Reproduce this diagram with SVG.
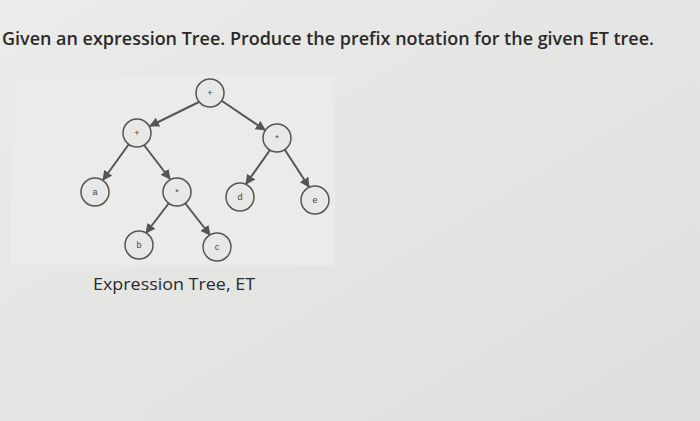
<svg xmlns="http://www.w3.org/2000/svg" width="700" height="421" viewBox="0 0 700 421">
<defs>
<marker id="ah" markerWidth="10" markerHeight="10" refX="9" refY="5" orient="auto" markerUnits="userSpaceOnUse"><path d="M0,0 L10,5 L0,10 z" fill="#555"/></marker>
<linearGradient id="bg" x1="0" y1="0" x2="1" y2="1"><stop offset="0" stop-color="#ebebe9"/><stop offset="1" stop-color="#dededc"/></linearGradient>
</defs>
<style>
.n circle{fill:#e8e8e6;stroke:#555;stroke-width:1.5}
.n text{font-family:"Liberation Sans",Arial,sans-serif;font-size:9px;fill:#444;text-anchor:middle}
#edges line{stroke:#555;stroke-width:2;marker-end:url(#ah)}
</style>
<rect width="700" height="421" fill="url(#bg)"/>
<rect x="10" y="75" width="325" height="190" fill="#ebebe9"/>
<text x="2" y="45" font-family="'Open Sans',sans-serif" font-size="18" font-weight="600" fill="#2a2a2a" textLength="652" lengthAdjust="spacingAndGlyphs">Given an expression Tree. Produce the prefix notation for the given ET tree.</text>
<g id="edges">
<line x1="199" y1="102" x2="150" y2="126"/>
<line x1="222" y1="101" x2="265" y2="130"/>
<line x1="129" y1="144" x2="103" y2="180"/>
<line x1="144" y1="145" x2="170" y2="179"/>
<line x1="169" y1="203" x2="146" y2="233"/>
<line x1="185" y1="203" x2="210" y2="235"/>
<line x1="270" y1="150" x2="246" y2="184"/>
<line x1="285" y1="150" x2="309" y2="187"/>
</g>
<g id="root" class="n"><circle cx="210" cy="93" r="14"/><text x="210" y="96">+</text></g>
<g id="plus" class="n"><circle cx="137" cy="133" r="14"/><text x="137" y="136">+</text></g>
<g id="mul2" class="n"><circle cx="277" cy="138" r="14"/><text x="277" y="141">*</text></g>
<g id="a" class="n"><circle cx="95" cy="192" r="14"/><text x="95" y="195">a</text></g>
<g id="mul1" class="n"><circle cx="177" cy="192" r="14"/><text x="177" y="195">*</text></g>
<g id="d" class="n"><circle cx="240" cy="197" r="14"/><text x="240" y="200">d</text></g>
<g id="e" class="n"><circle cx="315" cy="200" r="14"/><text x="315" y="203">e</text></g>
<g id="b" class="n"><circle cx="139" cy="245" r="14"/><text x="139" y="248">b</text></g>
<g id="c" class="n"><circle cx="217" cy="247" r="14"/><text x="217" y="250">c</text></g>
<text x="93" y="290" font-family="'Open Sans',sans-serif" font-size="17" fill="#2a2a2a" textLength="162" lengthAdjust="spacingAndGlyphs">Expression Tree, ET</text>
</svg>
